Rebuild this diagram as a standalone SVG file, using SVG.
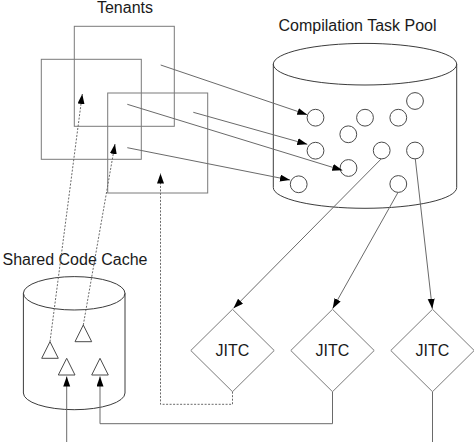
<svg xmlns="http://www.w3.org/2000/svg" width="474" height="442" viewBox="0 0 474 442">
<style>
.lbl{font-family:"Liberation Sans",Arial,sans-serif;font-size:16px;fill:#1a1a1a;text-anchor:middle}
.rect{fill:none;stroke:#7a7a7a;stroke-width:1}
.cyl{fill:none;stroke:#3c3c3c;stroke-width:1}
.circ{fill:#fff;stroke:#4a4a4a;stroke-width:1}
.tri{fill:#fff;stroke:#4a4a4a;stroke-width:1}
.dia{fill:#fff;stroke:#7a7a7a;stroke-width:1}
.con{fill:none;stroke:#6a6a6a;stroke-width:1}
.dot{fill:none;stroke:#6a6a6a;stroke-width:1;stroke-dasharray:2,1.5}
</style>
<defs>
<marker id="ah" markerUnits="userSpaceOnUse" markerWidth="11" markerHeight="8" refX="10" refY="3.5" orient="auto">
<path d="M0,0 L10,3.5 L0,7 Z" fill="#000"/>
</marker>
</defs>
<rect width="474" height="442" fill="#fff"/>
<g id="tenants">
<text class="lbl" x="125" y="13">Tenants</text>
<rect class="rect" x="74.3" y="26.3" width="100" height="100"/>
<rect class="rect" x="41.3" y="59.3" width="100" height="100"/>
<rect class="rect" x="107.7" y="93" width="100" height="100"/>
</g>
<g id="task-pool">
<text class="lbl" x="357.5" y="30.5">Compilation Task Pool</text>
<ellipse class="cyl" cx="365" cy="64.2" rx="91.7" ry="20.8"/>
<path class="cyl" d="M273.3,64.2 L273.3,187.5 A91.7,20.8 0 0 0 456.7,187.5 L456.7,64.2"/>
<circle class="circ" cx="315.5" cy="117.7" r="8.4"/>
<circle class="circ" cx="365" cy="117.7" r="8.4"/>
<circle class="circ" cx="398.3" cy="117.7" r="8.4"/>
<circle class="circ" cx="415" cy="101" r="8.4"/>
<circle class="circ" cx="348.3" cy="134.3" r="8.4"/>
<circle class="circ" cx="315.5" cy="150.7" r="8.4"/>
<circle class="circ" cx="381.7" cy="150.5" r="8.4"/>
<circle class="circ" cx="415" cy="150.5" r="8.4"/>
<circle class="circ" cx="348.5" cy="168" r="8.4"/>
<circle class="circ" cx="298.7" cy="184.3" r="8.4"/>
<circle class="circ" cx="398.3" cy="184" r="8.4"/>
</g>
<g id="code-cache">
<text class="lbl" x="75" y="265">Shared Code Cache</text>
<ellipse class="cyl" cx="74.2" cy="293.3" rx="50.8" ry="16.7"/>
<path class="cyl" d="M23.4,293.3 L23.4,393 A50.8,16.7 0 0 0 125,393 L125,293.3"/>
<polygon class="tri" points="50,341.7 58.3,358.3 41.7,358.3"/>
<polygon class="tri" points="83.3,325 91.7,341.7 75,341.7"/>
<polygon class="tri" points="66.7,358.3 75,375 58.3,375"/>
<polygon class="tri" points="100,358.3 108.3,375 91.7,375"/>
</g>
<g id="jitc1">
<polygon class="dia" points="232.5,309.3 274.2,350.5 232.5,391.7 190.8,350.5"/>
<text class="lbl" x="232.5" y="356.3">JITC</text>
</g>
<g id="jitc2">
<polygon class="dia" points="332.5,309.3 374.2,350.5 332.5,391.7 290.8,350.5"/>
<text class="lbl" x="332.5" y="356.3">JITC</text>
</g>
<g id="jitc3">
<polygon class="dia" points="432.5,309.3 474.2,350.5 432.5,391.7 390.8,350.5"/>
<text class="lbl" x="432.5" y="356.3">JITC</text>
</g>
<g id="connectors">
<line class="con" x1="160.7" y1="65" x2="307.3" y2="114.7" marker-end="url(#ah)"/>
<line class="con" x1="193.3" y1="112.3" x2="307.3" y2="144.3" marker-end="url(#ah)"/>
<line class="con" x1="127.3" y1="104.3" x2="342.3" y2="170.3" marker-end="url(#ah)"/>
<line class="con" x1="127.3" y1="147.7" x2="290" y2="180" marker-end="url(#ah)"/>
<line class="con" x1="381.3" y1="158.8" x2="233.5" y2="308.3" marker-end="url(#ah)"/>
<line class="con" x1="398" y1="192.4" x2="332.7" y2="308.5" marker-end="url(#ah)"/>
<line class="con" x1="415.3" y1="158.9" x2="432.3" y2="308.8" marker-end="url(#ah)"/>
<line class="con" x1="432.5" y1="391.7" x2="432.5" y2="442"/>
<polyline class="con" points="332.5,391.7 332.5,423.7 100,423.7 100,376.5" marker-end="url(#ah)"/>
<line class="con" x1="66.7" y1="442" x2="66.7" y2="376.5" marker-end="url(#ah)"/>
<polyline class="dot" points="232.5,391.7 232.5,404.3 160.5,404.3 160.5,173.5" marker-end="url(#ah)"/>
<line class="dot" x1="50" y1="341.7" x2="82.3" y2="94" marker-end="url(#ah)"/>
<line class="dot" x1="83.3" y1="325" x2="115" y2="144" marker-end="url(#ah)"/>
</g>
</svg>
